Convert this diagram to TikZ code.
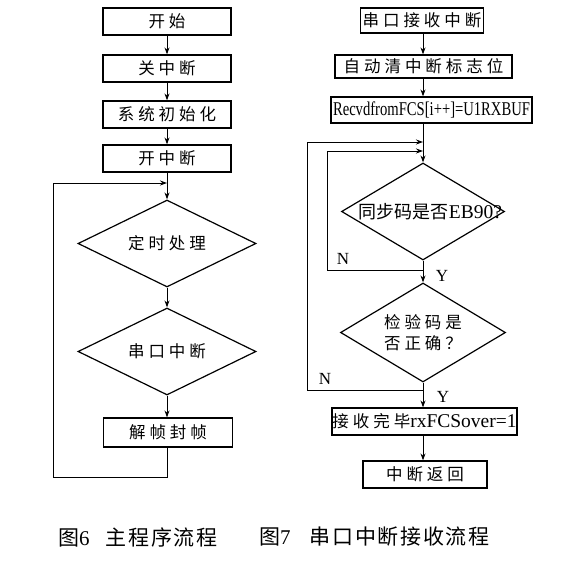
\documentclass[tikz,border=0pt]{standalone}
\usepackage{fontspec}
\setmainfont{Liberation Serif}
\newfontfamily\cjk[LetterSpace=24]{Noto Sans CJK SC}
\newfontfamily\cjkt{Noto Sans CJK SC}
\newfontfamily\cjkcap[LetterSpace=8]{Noto Sans CJK SC}
\newfontfamily\narrow[FakeStretch=0.75]{Liberation Serif}
\usetikzlibrary{arrows.meta,shapes.geometric}

\begin{document}
\begin{tikzpicture}[x=1pt,y=-1pt,
	box/.style={draw,line width=1.2pt,inner sep=0pt,font=\fontsize{16.5}{18}\cjk},
	dec/.style={draw,diamond,aspect=2,line width=1.2pt,inner sep=0pt,font=\fontsize{16.5}{21}\cjk,align=center},
	flow/.style={line width=1pt,-{Stealth[length=7pt,width=5pt]}},
	yn/.style={font=\fontsize{17}{17}\selectfont,inner sep=0pt}]
	\useasboundingbox (0,0) rectangle (588,562);
	% main program
	\foreach \n/\y/\t in {m1/21.5/开始,m2/68.5/关中断,m3/114.5/系统初始化,m4/158.5/开中断}{
		\node[box,minimum width=128pt,minimum height=27pt] (\n) at (167,\y) {\t};}
	\node[dec,minimum width=178pt,minimum height=87pt] (m5) at (167,243.5) {定时处理};
	\node[dec,minimum width=178pt,minimum height=87pt] (m6) at (167,351.5) {串口中断};
	\node[box,minimum width=129pt,minimum height=29pt] (m7) at (168,432.5) {解帧封帧};
	\coordinate (mj) at (167,183);
	\foreach \a/\b in {m1/m2,m2/m3,m3/m4,m4/m5,m5/m6}{
		\draw[flow] (\a) -- (\b);}
	\draw[flow] (m6.south) -- (m6.south |- m7.north);
	\draw[flow] (m7.south -| mj) -- ++(0,30) -| ([xshift=-114pt]mj) -- (mj);
	% serial interrupt
	\node[box,minimum width=123pt,minimum height=25pt] (r1) at (422,20.5) {串口接收中断};
	\node[box,minimum width=177pt,minimum height=23pt] (r2) at (423.5,66.5) {自动清中断标志位};
	\node[box,minimum width=201pt,minimum height=26pt] (r3) at (431.5,110)
		{\fontsize{19.5}{20}\narrow RecvdfromFCS[i++]=U1RXBUF};
	\node[dec,minimum width=163pt,minimum height=97pt] (d1) at (423,211.5)
		{\makebox[0pt]{\hspace{15pt}\fontsize{18}{20}\cjkt 同步码是否\fontsize{19.5}{20}\rmfamily EB90?}};
	\node[dec,minimum width=165pt,minimum height=99pt] (d2) at (423,332.5) {检验码是\\否正确？};
	\node[box,minimum width=185pt,minimum height=27pt] (r4) at (424.5,421.5)
		{接收完毕{\fontsize{19.5}{20}\rmfamily rxFCSover=1}};
	\node[box,minimum width=124pt,minimum height=27pt] (r5) at (425,474.5) {中断返回};
	\coordinate (j1) at (423,142);
	\coordinate (j2) at (423,151);
	\coordinate (n1) at (423,270);
	\coordinate (n2) at (423,390);
	\draw[flow] (r1.south -| d1) -- (r2.north -| d1);
	\draw[flow] (r2.south -| d1) -- (r3.north -| d1);
	\draw[flow] (r3.south -| d1) -- (d1.north);
	\draw[flow] (d1.south) -- (d2.north);
	\draw[flow] (d2.south) -- (r4.north -| d2);
	\draw[flow] (r4.south -| d2) -- (r5.north -| d2);
	\draw[flow] (n1) -| ([xshift=-96pt]j2) -- (j2);
	\draw[flow] (n2) -| ([xshift=-116pt]j1) -- (j1);
	\node[yn] (no1) at (343,259) {N};
	\node[yn] (ye1) at (442,276) {Y};
	\node[yn] (no2) at (325,379) {N};
	\node[yn] (ye2) at (443,397) {Y};
	% captions
	\node[anchor=west,inner sep=0pt] (cap6) at (58,537)
		{{\fontsize{21}{22}\cjkcap 图}{\fontsize{21}{22}\rmfamily 6}\hspace{16pt}{\fontsize{21}{22}\cjkcap 主程序流程}};
	\node[anchor=west,inner sep=0pt] (cap7) at (259,537)
		{{\fontsize{21}{22}\cjkcap 图}{\fontsize{21}{22}\rmfamily 7}\hspace{19pt}{\fontsize{21}{22}\cjkcap 串口中断接收流程}};
\end{tikzpicture}
\end{document}
